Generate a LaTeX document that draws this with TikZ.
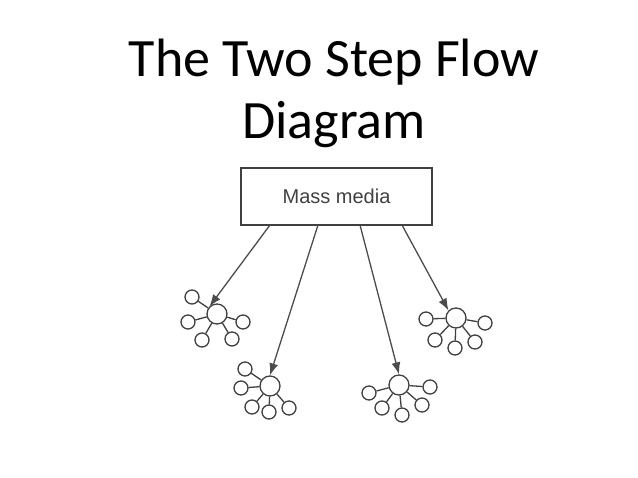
\documentclass[tikz,border=0pt]{standalone}
\usepackage{fontspec}
\setmainfont{Carlito}
\newfontfamily\boxfont{Liberation Sans}
\usetikzlibrary{arrows.meta}
\begin{document}
\begin{tikzpicture}[x=1pt,y=-1pt,
  sat/.style={circle,draw=black!75,line width=1.3pt,minimum size=14pt,inner sep=0pt,fill=white},
  hub/.style={circle,draw=black!75,line width=1.3pt,minimum size=20pt,inner sep=0pt,fill=white},
  arr/.style={-{Latex[length=12pt,width=9pt]},line width=1.3pt,draw=black!70},
  spoke/.style={line width=1.3pt,draw=black!75}]
\useasboundingbox (0,0) rectangle (638,478);
\node (t1) at (334,62) {\fontsize{54}{60}\selectfont The Two Step Flow};
\node (t2) at (334,125) {\fontsize{54}{60}\selectfont Diagram};
\node[draw=black!75,line width=1.3pt,minimum width=191pt,minimum height=57pt,inner sep=0pt] (mm) at (336.5,196.5) {\boxfont\fontsize{20}{22}\selectfont\color{black!75}Mass media};
\def\cluster#1#2#3{%
  \node[hub] (#1) at (#2) {};
  \foreach \p [count=\i] in {#3} {
    \node[sat] (#1s\i) at (\p) {};
    \draw[spoke] (#1) -- (#1s\i);
  }}
\cluster{c1}{217,314}{{192,297},{188,322},{202,340},{232,339},{243,322}}
\cluster{c2}{270,386}{{245,369},{241,388},{252,407},{269,412},{289,408}}
\cluster{c3}{399,385}{{369,393},{430,387},{382,408},{402,415},{422,405}}
\cluster{c4}{456,318}{{426,319},{485,323},{435,340},{455,348},{475,342}}
\coordinate (a1) at (270,225); \coordinate (a2) at (318,225);
\coordinate (a3) at (360,225); \coordinate (a4) at (402,225);
\draw[arr] (a1) -- (c1.north west);
\draw[arr] (a2) -- (c2.north);
\draw[arr] (a3) -- (c3.north);
\draw[arr] (a4) -- (c4.north west);
\end{tikzpicture}
\end{document}
